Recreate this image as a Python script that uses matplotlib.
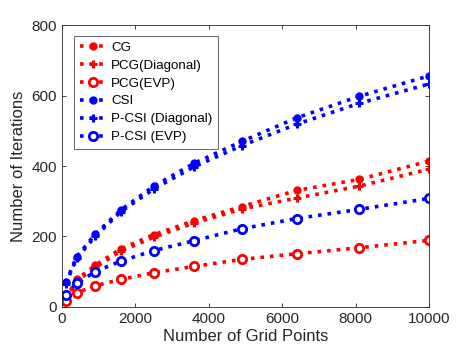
import matplotlib.pyplot as plt

plt.rcParams['font.family'] = ['Liberation Sans', 'DejaVu Sans']

# grid sizes (number of grid points)
grid_points = [100, 400, 900, 1600, 2500, 3600, 4900, 6400, 8100, 10000]

# iterations
cg = [25, 78, 118, 165, 205, 245, 285, 331, 362, 414]
pcg_diag = [22, 73, 112, 158, 198, 238, 278, 309, 343, 391]
pcg_evp = [18, 40, 60, 78, 97, 115, 135, 151, 168, 189]
csi = [70, 143, 206, 275, 343, 408, 470, 537, 598, 656]
pcsi_diag = [65, 138, 200, 270, 335, 398, 458, 519, 578, 633]
pcsi_evp = [35, 67, 100, 130, 160, 188, 222, 251, 277, 308]

fig = plt.figure(figsize=(4.74, 3.54), dpi=100)
ax = fig.add_axes([0.131, 0.133, 0.774, 0.796])

lw = 2.6
ax.plot(grid_points, cg, color='red', linestyle=':', linewidth=lw,
        marker='o', markersize=5, label='CG')
ax.plot(grid_points, pcg_diag, color='red', linestyle=':', linewidth=lw,
        marker='+', markersize=6, markeredgewidth=2.2, label='PCG(Diagonal)')
ax.plot(grid_points, pcg_evp, color='red', linestyle=':', linewidth=lw,
        marker='o', markersize=6, markerfacecolor='white', markeredgewidth=2.0,
        label='PCG(EVP)')
ax.plot(grid_points, csi, color='blue', linestyle=':', linewidth=lw,
        marker='o', markersize=5, label='CSI')
ax.plot(grid_points, pcsi_diag, color='blue', linestyle=':', linewidth=lw,
        marker='+', markersize=6, markeredgewidth=2.2, label='P-CSI (Diagonal)')
ax.plot(grid_points, pcsi_evp, color='blue', linestyle=':', linewidth=lw,
        marker='o', markersize=6, markerfacecolor='white', markeredgewidth=2.0,
        label='P-CSI (EVP)')

ax.set_xlim(0, 10000)
ax.set_ylim(0, 800)
ax.set_xticks([0, 2000, 4000, 6000, 8000, 10000])
ax.set_yticks([0, 200, 400, 600, 800])
ax.tick_params(direction='in', top=True, right=True, length=3,
               labelsize=11, colors='#262626', width=0.6)
for s in ax.spines.values():
    s.set_color('#262626')
    s.set_linewidth(0.6)

ax.set_xlabel('Number of Grid Points', fontsize=12, color='#262626', labelpad=2)
ax.set_ylabel('Number of Iterations', fontsize=12, color='#262626', labelpad=4)

leg = ax.legend(loc='upper left', fontsize=9.6, handlelength=2.0,
                handletextpad=0.35, labelspacing=0.42, fancybox=False,
                borderpad=0.4, bbox_to_anchor=(0.015, 0.985))
leg.get_frame().set_edgecolor('#262626')
leg.get_frame().set_linewidth(0.6)

fig.savefig('out.png', dpi=100)
